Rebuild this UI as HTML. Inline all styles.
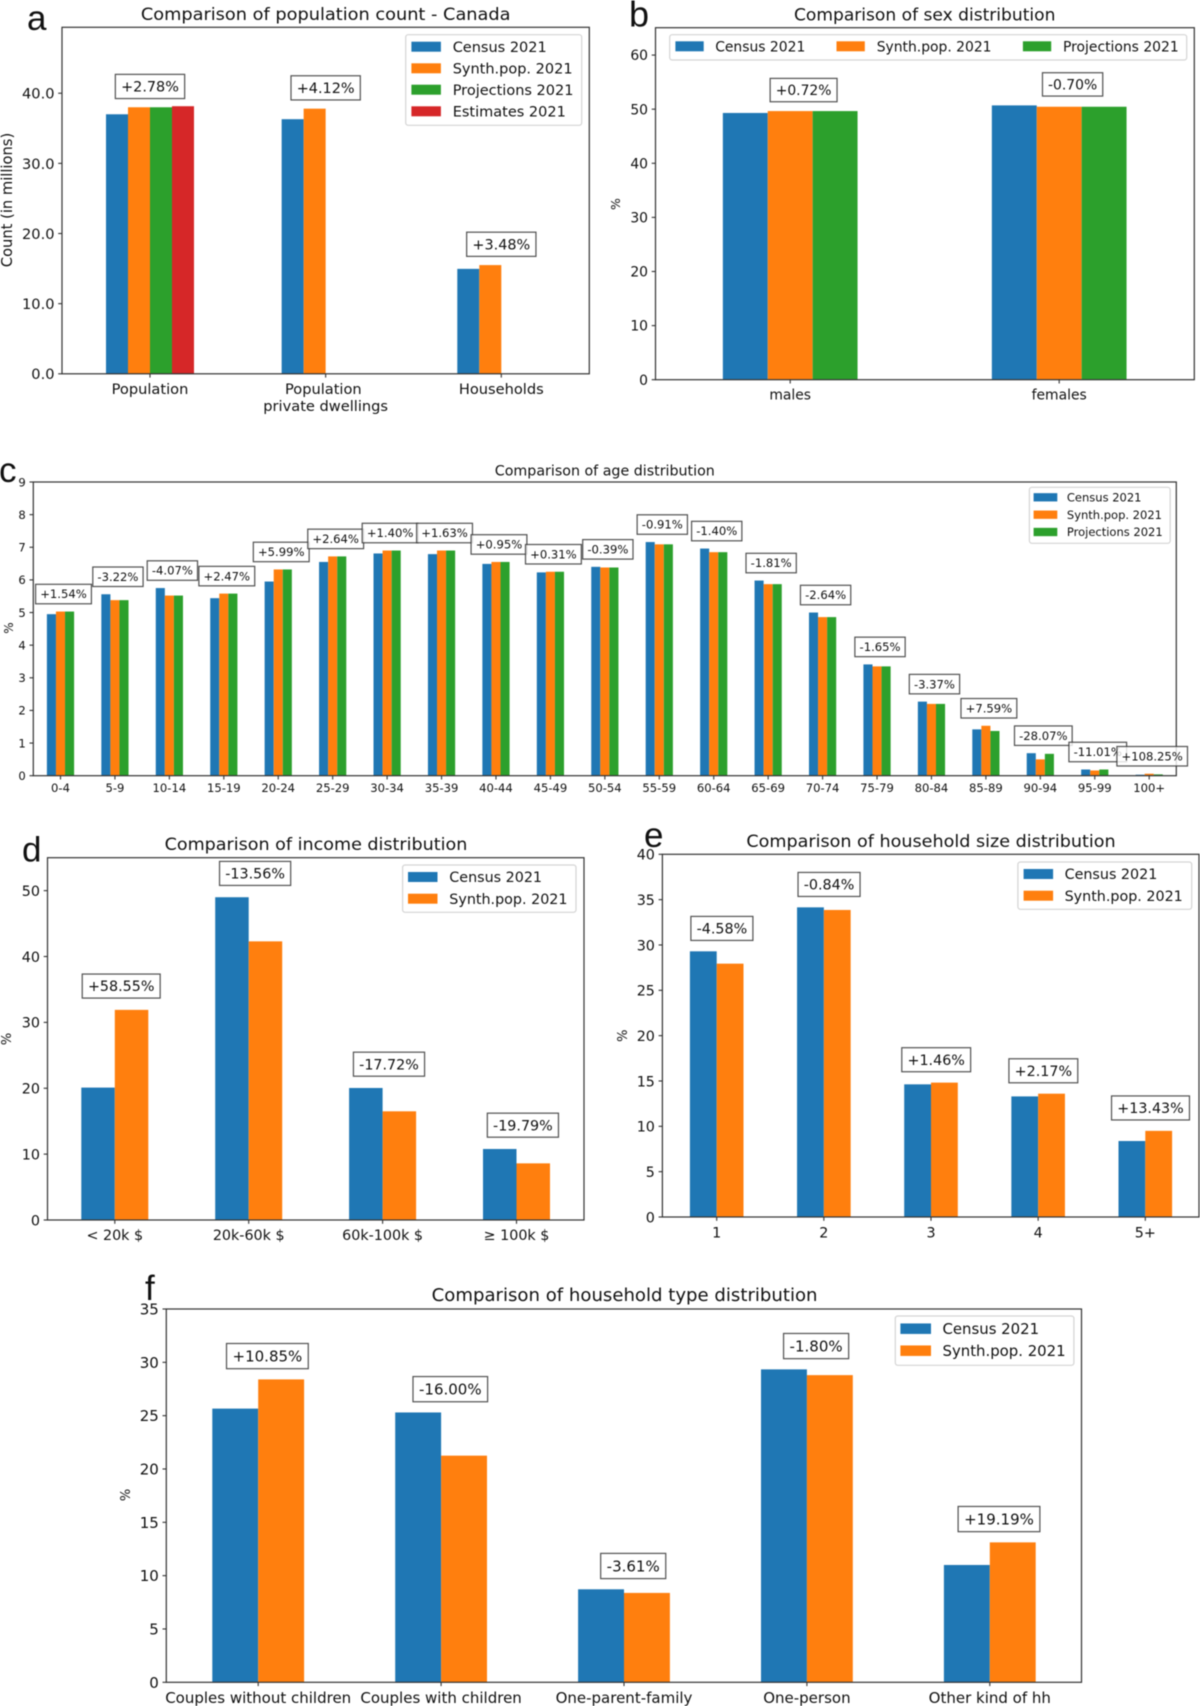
<!DOCTYPE html>
<html lang="en">
<head>
<meta charset="utf-8">
<title>Synthetic population comparison - Canada</title>
<style>
html,body{margin:0;padding:0;background:#fff;}
svg{display:block;filter:blur(0.5px);}
text{font-family:"DejaVu Sans","Liberation Sans",sans-serif;fill:#111;}
.letter{font-family:"Liberation Sans",sans-serif;fill:#111;}
.legend-box{fill:#fff;stroke:#d4d4d4;stroke-width:1.2;}
</style>
</head>
<body>
<svg id="fig" xmlns="http://www.w3.org/2000/svg" width="1200" height="1706" viewBox="0 0 1200 1706">
<rect x="0" y="0" width="1200" height="1706" fill="#fff"/>

<g id="panel-a">
  <text class="letter" x="27" y="30" font-size="35">a</text>
  <text x="325.7" y="20" font-size="17.3" text-anchor="middle" textLength="369.7" lengthAdjust="spacingAndGlyphs">Comparison of population count - Canada</text>
  <text transform="translate(12,200) rotate(-90)" font-size="14.7" text-anchor="middle">Count (in millions)</text>
</g>
<g id="panel-b">
  <text class="letter" x="629" y="26.7" font-size="36">b</text>
  <text x="924.7" y="20.5" font-size="16.7" text-anchor="middle" textLength="261.4" lengthAdjust="spacingAndGlyphs">Comparison of sex distribution</text>
  <text transform="translate(620,204) rotate(-90)" font-size="12.5" text-anchor="middle">%</text>
</g>
<g id="panel-c">
  <text class="letter" x="-1" y="482" font-size="35">c</text>
  <text x="604.8" y="475.5" font-size="13.9" text-anchor="middle" textLength="220" lengthAdjust="spacingAndGlyphs">Comparison of age distribution</text>
  <text transform="translate(13,628) rotate(-90)" font-size="12" text-anchor="middle">%</text>
</g>
<g id="panel-d">
  <text class="letter" x="22" y="861.7" font-size="35">d</text>
  <text x="316" y="850" font-size="17" text-anchor="middle" textLength="302.7" lengthAdjust="spacingAndGlyphs">Comparison of income distribution</text>
  <text transform="translate(11,1039) rotate(-90)" font-size="13" text-anchor="middle">%</text>
</g>
<g id="panel-e">
  <text class="letter" x="644" y="847" font-size="35">e</text>
  <text x="931" y="847" font-size="17" text-anchor="middle" textLength="369.3" lengthAdjust="spacingAndGlyphs">Comparison of household size distribution</text>
  <text transform="translate(627,1035.7) rotate(-90)" font-size="13" text-anchor="middle">%</text>
</g>
<g id="panel-f">
  <text class="letter" x="145" y="1300" font-size="35">f</text>
  <text x="624.6" y="1301" font-size="18" text-anchor="middle" textLength="385.9" lengthAdjust="spacingAndGlyphs">Comparison of household type distribution</text>
  <text transform="translate(130,1495) rotate(-90)" font-size="13" text-anchor="middle">%</text>
</g>
</svg>

<script>
// ---- panel a data ----
const aCategories = ['Population', 'Population\u00a0\nprivate dwellings', 'Households'];
const aCensus = [37.0, 36.3, 14.96];
const aSynth = [38.0, 37.8, 15.5];
const aProjections = [38.0, null, null];
const aEstimates = [38.15, null, null];
const aTicks = [0, 10, 20, 30, 40];
const aChanges = ['+2.78%', '+4.12%', '+3.48%'];

// ---- panel b data ----
const bCategories = ['males', 'females'];
const bCensus = [49.3, 50.7];
const bSynth = [49.65, 50.45];
const bProjections = [49.65, 50.45];
const bTicks = [0, 10, 20, 30, 40, 50, 60];
const bChanges = ['+0.72%', '-0.70%'];

// ---- panel c data ----
const cCategories = ['0-4','5-9','10-14','15-19','20-24','25-29','30-34','35-39','40-44','45-49','50-54','55-59','60-64','65-69','70-74','75-79','80-84','85-89','90-94','95-99','100+'];
const cCensus = [4.95,5.56,5.75,5.44,5.95,6.55,6.81,6.79,6.49,6.23,6.40,7.16,6.96,5.98,5.00,3.41,2.27,1.42,0.69,0.19,0.03];
const cSynth = [5.03,5.38,5.52,5.58,6.32,6.72,6.90,6.90,6.55,6.25,6.38,7.09,6.85,5.87,4.86,3.35,2.20,1.53,0.50,0.16,0.06];
const cProjections = [5.03,5.38,5.52,5.58,6.32,6.72,6.90,6.90,6.55,6.25,6.38,7.09,6.85,5.87,4.86,3.35,2.20,1.37,0.67,0.19,0.04];
const cTicks = [0,1,2,3,4,5,6,7,8,9];
const cChanges = ['+1.54%','-3.22%','-4.07%','+2.47%','+5.99%','+2.64%','+1.40%','+1.63%','+0.95%','+0.31%','-0.39%','-0.91%','-1.40%','-1.81%','-2.64%','-1.65%','-3.37%','+7.59%','-28.07%','-11.01%','+108.25%'];

// ---- panel d data ----
const dCategories = ['< 20k $', '20k-60k $', '60k-100k $', '\u2265 100k $'];
const dCensus = [20.1, 49.0, 20.04, 10.78];
const dSynth = [31.9, 42.3, 16.5, 8.6];
const dTicks = [0, 10, 20, 30, 40, 50];
const dChanges = ['+58.55%', '-13.56%', '-17.72%', '-19.79%'];

// ---- panel e data ----
const eCategories = ['1', '2', '3', '4', '5+'];
const eCensus = [29.3, 34.15, 14.63, 13.3, 8.38];
const eSynth = [27.94, 33.86, 14.82, 13.6, 9.5];
const eTicks = [0, 5, 10, 15, 20, 25, 30, 35, 40];
const eChanges = ['-4.58%', '-0.84%', '+1.46%', '+2.17%', '+13.43%'];

// ---- panel f data ----
const fCategories = ['Couples without children', 'Couples with children', 'One-parent-family', 'One-person', 'Other kind of hh'];
const fCensus = [25.66, 25.3, 8.72, 29.34, 11.0];
const fSynth = [28.4, 21.25, 8.38, 28.8, 13.12];
const fTicks = [0, 5, 10, 15, 20, 25, 30, 35];
const fChanges = ['+10.85%', '-16.00%', '-3.61%', '-1.80%', '+19.19%'];

const seriesNames = ['Census 2021', 'Synth.pop. 2021', 'Projections 2021', 'Estimates 2021'];
const seriesColors = ['#1f77b4', '#ff7f0e', '#2ca02c', '#d62728'];

const NS = 'http://www.w3.org/2000/svg';
function make(tag, parent, props) {
  const el = document.createElementNS(NS, tag);
  for (const k in props) el.setAttribute(k, props[k]);
  parent.appendChild(el);
  return el;
}

function drawPanel(id, box, categories, series, ticks, changes, style) {
  const root = document.getElementById(id);
  const unit = (box.bottom - box.top) / box.yMax;
  const yPos = v => box.bottom - v * unit;
  const xPos = i => box.first + i * box.step;

  const bars = make('g', root, {});
  
  
  series.forEach((vals, s) => {
    vals.forEach((v, i) => {
      if (v === null) return;
      const r = make('rect', bars, {
        x: xPos(i) + (s - series.length / 2) * box.barW,
        y: yPos(v), width: box.barW, height: v * unit, fill: seriesColors[s]
      });
      
      
    });
  });

  const frame = make('rect', root, {
    x: box.left, y: box.top, width: box.right - box.left, height: box.bottom - box.top,
    fill: 'none', stroke: '#333', 'stroke-width': 1.2
  });
  
  

  ticks.forEach(t => {
    const m = make('line', root, { x1: box.left - 3.8, x2: box.left, y1: yPos(t), y2: yPos(t), stroke: '#333', 'stroke-width': 1.1 });
    
    
    const l = make('text', root, { x: box.left - 7.5, y: yPos(t) + style.tickFont * 0.37, 'font-size': style.tickFont, 'text-anchor': 'end' });
    l.textContent = t.toFixed(style.tickDigits);
    
    
  });

  categories.forEach((c, i) => {
    const m = make('line', root, { x1: xPos(i), x2: xPos(i), y1: box.bottom, y2: box.bottom + 3.8, stroke: '#333', 'stroke-width': 1.1 });
    
    
    c.split('\n').forEach((line, n) => {
      const l = make('text', root, { x: xPos(i), y: box.xLabelY + n * 17, 'font-size': style.tickFont, 'text-anchor': 'middle' });
      l.textContent = line;
      
      
    });
  });

  changes.forEach((txt, i) => {
    const top = Math.max(...series.slice(0, 3).map(v => v[i] === null ? 0 : v[i]));
    const cx = xPos(i) + style.labelDx;
    const cy = yPos(top) - style.labelDy;
    const g = make('g', root, {});
    
    
    const b = make('rect', g, { fill: '#fff', 'fill-opacity': 0.8, stroke: '#333', 'stroke-opacity': 0.85, 'stroke-width': 1.2 });
    
    
    const t = make('text', g, { x: cx, y: cy + style.labelFont * 0.36, 'font-size': style.labelFont, 'text-anchor': 'middle' });
    t.textContent = txt;
    
    
    const w = t.getComputedTextLength() + style.labelFont * 0.8;
    const h = style.labelFont * 1.68;
    b.setAttribute('x', cx - w / 2);
    b.setAttribute('y', cy - h / 2);
    b.setAttribute('width', w);
    b.setAttribute('height', h);
  });

  const lg = make('g', root, {});
  
  
  const f = make('rect', lg, { class: 'legend-box', x: style.legend.x, y: style.legend.y, width: style.legend.w, height: style.legend.h, rx: 2.5 });
  
  
  style.legend.items.forEach((it, s) => {
    const p = make('rect', lg, { x: it[0], y: it[1] - style.legend.patchH / 2, width: style.legend.patchW, height: style.legend.patchH, fill: seriesColors[s] });
    
    
    const t = make('text', lg, { x: it[2], y: it[1] + style.legend.font * 0.36, 'font-size': style.legend.font });
    t.textContent = seriesNames[s];
    
    
  });
}

drawPanel('panel-a',
  { left: 62, right: 589.3, top: 27.3, bottom: 373.8, yMax: 49.4, first: 150, step: 175.65, barW: 22, xLabelY: 394 },
  aCategories, [aCensus, aSynth, aProjections, aEstimates], aTicks, aChanges,
  { tickFont: 14.6, tickDigits: 1, labelFont: 14.4, labelDx: 0, labelDy: 20.8,
    legend: { x: 405.7, y: 34.7, w: 176, h: 90.6, patchW: 29.5, patchH: 10, font: 14.5,
      items: [[411.4, 46.7, 452.7], [411.4, 68.3, 452.7], [411.4, 89.7, 452.7], [411.4, 111.3, 452.7]] } });

drawPanel('panel-b',
  { left: 655.5, right: 1194.3, top: 27.7, bottom: 379.7, yMax: 65.06, first: 790.2, step: 269, barW: 44.9, xLabelY: 399.5 },
  bCategories, [bCensus, bSynth, bProjections], bTicks, bChanges,
  { tickFont: 13.9, tickDigits: 0, labelFont: 13.9, labelDx: 13.4, labelDy: 21,
    legend: { x: 669.7, y: 34.7, w: 517, h: 25.3, patchW: 28.3, patchH: 10, font: 13.9,
      items: [[675.4, 46.3, 715.2], [836.5, 46.3, 876.7], [1022.9, 46.3, 1063]] } });

drawPanel('panel-c',
  { left: 33.3, right: 1176.3, top: 482, bottom: 775.7, yMax: 9, first: 60.5, step: 54.435, barW: 9.07, xLabelY: 792 },
  cCategories, [cCensus, cSynth, cProjections], cTicks, cChanges,
  { tickFont: 11.6, tickDigits: 0, labelFont: 11.6, labelDx: 3, labelDy: 17.5,
    legend: { x: 1029.4, y: 487.3, w: 140.8, h: 56, patchW: 23.7, patchH: 8.3, font: 11.5,
      items: [[1033.6, 497.3, 1066.9], [1033.6, 514.7, 1066.9], [1033.6, 532, 1066.9]] } });

drawPanel('panel-d',
  { left: 47.5, right: 584, top: 857.7, bottom: 1220, yMax: 55, first: 114.8, step: 133.9, barW: 33.5, xLabelY: 1240 },
  dCategories, [dCensus, dSynth], dTicks, dChanges,
  { tickFont: 14.3, tickDigits: 0, labelFont: 14.3, labelDx: 6.4, labelDy: 23.8,
    legend: { x: 402.6, y: 865, w: 173.4, h: 47.3, patchW: 29.5, patchH: 10, font: 14.3,
      items: [[408, 877, 449.3], [408, 898.7, 449.3]] } });

drawPanel('panel-e',
  { left: 662.4, right: 1199, top: 854.3, bottom: 1217, yMax: 40, first: 716.7, step: 107.15, barW: 26.8, xLabelY: 1237.5 },
  eCategories, [eCensus, eSynth], eTicks, eChanges,
  { tickFont: 14.3, tickDigits: 0, labelFont: 14.3, labelDx: 5.2, labelDy: 22.9,
    legend: { x: 1017.9, y: 862, w: 173.8, h: 47.3, patchW: 29.5, patchH: 10, font: 14.3,
      items: [[1023.6, 874, 1064.6], [1023.6, 895.7, 1064.6]] } });

drawPanel('panel-f',
  { left: 166.3, right: 1081.5, top: 1309, bottom: 1682.3, yMax: 35, first: 258.2, step: 182.9, barW: 45.9, xLabelY: 1703 },
  fCategories, [fCensus, fSynth], fTicks, fChanges,
  { tickFont: 15, tickDigits: 0, labelFont: 15, labelDx: 9.2, labelDy: 23.3,
    legend: { x: 895.3, y: 1316, w: 178.6, h: 49.3, patchW: 30.6, patchH: 10.5, font: 14.9,
      items: [[900.4, 1328.7, 942.5], [900.4, 1350.7, 942.5]] } });
</script>
</body>
</html>
